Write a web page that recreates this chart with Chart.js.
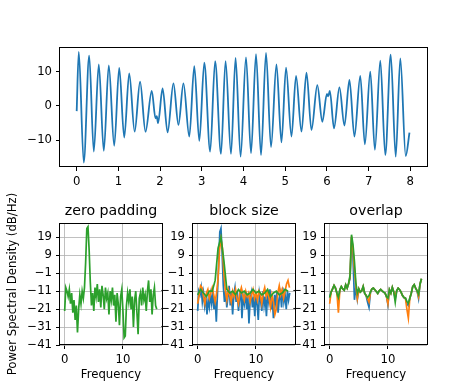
<!DOCTYPE html>
<html>
<head>
<meta charset="utf-8">
<script src="https://cdn.jsdelivr.net/npm/chart.js@4.4.0/dist/chart.umd.min.js"></script>
<style>
  body { margin: 0; background: #fff; width: 474px; height: 387px; overflow: hidden; position: relative; }
  canvas { position: absolute; }
</style>
</head>
<body>
<canvas id="signal" width="474" height="185" style="left:0px;top:0px"></canvas>
<canvas id="zeroPad" width="174" height="207" style="left:0px;top:180px"></canvas>
<canvas id="blockSize" width="174" height="207" style="left:133px;top:180px"></canvas>
<canvas id="overlap" width="174" height="207" style="left:265px;top:180px"></canvas>
<script>
// raw time series (peaks / troughs)
var sigTime = [0, 0.05, 0.17, 0.30, 0.41, 0.53, 0.65, 0.77, 0.90, 1.02, 1.14, 1.26, 1.39, 1.52, 1.65, 1.80, 1.89, 1.92, 1.95,
  2.06, 2.18, 2.32, 2.44, 2.56, 2.70, 2.82, 2.94, 3.06, 3.20, 3.32, 3.46, 3.57, 3.70, 3.81, 3.93, 4.06, 4.18, 4.30, 4.42,
  4.54, 4.66, 4.79, 4.91, 5.02, 5.15, 5.26, 5.39, 5.51, 5.63, 5.77, 5.89, 6.00, 6.03, 6.07, 6.17, 6.30, 6.42, 6.54, 6.66,
  6.80, 6.91, 7.04, 7.15, 7.28, 7.40, 7.53, 7.65, 7.76, 7.89, 7.98];
var sigValue = [-1.5, 15.8, -16.5, 14.7, -13.3, 12.1, -13.1, 11.8, -11.6, 11.1, -9.2, 9.5, -7.5, 7.1, -7.5, 4.4, -3.6, -3.0, -5.0,
  5.1, -7.7, 6.6, -5.5, 6.6, -8.9, 11.6, -10.2, 12.6, -13.3, 13.1, -14.0, 13.1, -14.0, 14.0, -14.8, 14.2, -13.8, 15.1, -14.3,
  15.5, -12.0, 12.1, -10.6, 11.2, -8.9, 8.8, -7.5, 9.7, -7.0, 6.1, -4.6, 3.5, 2.8, 4.4, -6.5, 5.4, -5.7, 7.6, -8.9,
  8.8, -11.2, 10.0, -12.8, 13.2, -14.3, 15.0, -14.8, 13.9, -14.6, -7.8];
var sigXTicks = [0, 1, 2, 3, 4, 5, 6, 7, 8];
var sigYTicks = [-10, 0, 10];

// PSD panels (dB/Hz), frequency bins every step Hz
var zpStep = 0.2;
var zpGreen = [-22, -9, -11, -14, -10, -18, -12, -23, -16, -27, -19, -34, -21, -13, -18, -11, -15, -9, 5, 24,
  25, 12, -6, -19, -12, -22, -9, -14, -7, -17, -10, -20, -8, -13, -21, -9, -15, -12, -24, -11,
  -16, -9, -19, -13, -28, -12, -18, -30, -14, -10, -22, -37, -36, -19, -12, -17, -10, -21, -14, -31,
  -16, -11, -23, -35, -15, -12, -19, -9, -16, -13, -22, -11, -5, -17, -10, -24, -13, -9, -19, -21];

var bsBlueStep = 0.2;
var bsBlue = [-22, -11, -13, -9, -17, -12, -19, -14, -24, -16, -20, -13, -18, -11, -21, -15, -28, -12, 4, 22,
  24, 10, -8, -17, -11, -20, -14, -8, -19, -12, -24, -13, -9, -17, -11, -22, -15, -10, -26, -14,
  -18, -11, -21, -13, -29, -16, -12, -20, -14, -25, -13, -18, -27, -12, -16, -22, -11, -19, -14, -25,
  -12, -17, -10, -21, -15, -26, -13, -18, -11, -23, -15, -12, -20, -9, -17, -13, -21, -11, -16, -12];
var bsOrangeStep = 0.25;
var bsOrange = [-18, -13, -8, -9, -14, -18, -12, -10, -15, -12, -9, -13, -17, -12, -4, 12, 18, 13, -1, -11,
  -16, -10, -13, -17, -11, -14, -10, -15, -18, -12, -9, -13, -16, -11, -14, -12, -17, -13, -10, -15,
  -12, -16, -11, -13, -18, -12, -9, -14, -11, -15, -20, -13, -17, -24, -21, -12, -8, -13, -10, -15,
  -11, -7, -5, -9];
var bsGreenStep = 0.5;
var bsGreen = [-13, -10, -12, -14, -11, -11, -5, 13, 19, 6, -10, -12, -11, -13, -10, -12,
  -11, -13, -12, -10, -12, -11, -13, -12, -10, -14, -12, -11, -13, -12, -10, -11];

var ovStep = 0.25;
var ovBlue = [-14.5, -11.5, -9.7, -7.8, -9.3, -12.1, -16, -10.2, -8.4, -9.7, -10.4, -7.4, -9.3, -6.7, -4, 19,
  8, -15.8, -9, -15.5, -9.7, -11.5, -10.8, -8.4, -12.1, -13.4, -17, -20, -11.5, -9.7, -9.3, -10.2,
  -11.2, -12.3, -10.8, -10, -10.8, -11.5, -12.1, -14, -18.5, -10.2, -12.1, -8.9, -11.5, -15, -10.8, -9.3,
  -10.2, -11.5, -13.4, -14.5, -14.9, -18, -19, -14.9, -12.1, -8.4, -7.4, -9.3, -10.8, -15, -7.1, -4.1];
var ovOrange = [-18, -11.5, -9.7, -7.8, -9.3, -12.1, -23, -10.2, -8.4, -9.7, -10.4, -7.4, -9.3, -6.7, -3, 19.5,
  12, 1, -8, -15, -9.7, -11.5, -10.8, -8.4, -12.1, -13.4, -15, -17, -11.5, -9.7, -9.3, -10.2,
  -11.2, -12.3, -10.8, -10, -10.8, -11.5, -12.1, -14, -18, -10.2, -12.1, -8.9, -11.5, -14, -10.8, -9.3,
  -10.2, -11.5, -13.4, -14.5, -14.9, -21, -26, -14.9, -12.1, -8.4, -7.4, -9.3, -10.8, -14, -7.1, -4.1];
var ovGreen = [-14.5, -11.5, -9.7, -7.8, -9.3, -12.1, -14.5, -10.2, -8.4, -9.7, -10.4, -7.4, -9.3, -6.7, -2, 20.5,
  15, 5.6, -6.5, -12.1, -9.7, -11.5, -10.8, -8.4, -12.1, -13.4, -14.5, -13.4, -11.5, -9.7, -9.3, -10.2,
  -11.2, -12.3, -10.8, -10, -10.8, -11.5, -12.1, -14, -14.9, -10.2, -12.1, -8.9, -11.5, -17.1, -10.8, -9.3,
  -10.2, -11.5, -13.4, -14.5, -14.9, -16.7, -17.7, -14.9, -12.1, -8.4, -7.4, -9.3, -10.8, -12.7, -7.1, -4.1];

var psdXTicks = [0, 10];
var psdYTicks = [-41, -31, -21, -11, -1, 9, 19];

var blue = '#1f77b4', orange = '#ff7f0e', green = '#2ca02c';

Chart.defaults.font.family = "'DejaVu Sans', sans-serif";
Chart.defaults.font.size = 11.7;
Chart.defaults.color = '#000';

function toPoints(values, step) {
  return values.map(function(v, i) { return {x: i * step, y: v}; });
}

function minusSign(v) {
  return String(v).replace('-', '\u2212');
}

function fixTicks(list) {
  return function(scale) {
    scale.ticks = list.map(function(v) { return {value: v}; });
  };
}

// matplotlib style box round the axes
var frame = {
  id: 'frame',
  afterDatasetsDraw: function(chart) {
    var a = chart.chartArea, ctx = chart.ctx;
    ctx.save();
    ctx.strokeStyle = '#000';
    ctx.lineWidth = 1;
    ctx.strokeRect(Math.round(a.left) - 0.5, Math.round(a.top) + 0.5,
      Math.round(a.right - a.left) + 1, Math.round(a.bottom - a.top) - 1);
    ctx.restore();
  }
};

function line(points, color, order) {
  return {
    data: points,
    borderColor: color,
    borderWidth: 1.7,
    pointRadius: 0,
    fill: false,
    order: order
  };
}

new Chart(document.getElementById('signal'), {
  type: 'line',
  data: {
    datasets: [Object.assign(line(sigTime.map(function(t, i) { return {x: t, y: sigValue[i]}; }), blue, 0),
      {cubicInterpolationMode: 'monotone', borderWidth: 1.8})]
  },
  plugins: [frame],
  options: {
    responsive: false,
    animation: false,
    events: [],
    layout: {padding: {left: 0, right: 47, top: 47, bottom: 0}},
    plugins: {legend: {display: false}, tooltip: {enabled: false}},
    scales: {
      x: {
        type: 'linear', min: -0.4, max: 8.4,
        afterBuildTicks: fixTicks(sigXTicks),
        afterFit: function(s) { s.height = 18; },
        grid: {drawOnChartArea: false, tickLength: 4, tickColor: '#000'},
        border: {display: false},
        ticks: {padding: 4, maxRotation: 0, autoSkip: false, callback: minusSign}
      },
      y: {
        type: 'linear', min: -17.8, max: 17.2,
        afterBuildTicks: fixTicks(sigYTicks),
        afterFit: function(s) { s.width = 60; },
        grid: {drawOnChartArea: false, tickLength: 4, tickColor: '#000'},
        border: {display: false},
        ticks: {padding: 4, autoSkip: false, callback: minusSign}
      }
    }
  }
});

function spectrum(id, title, datasets, yTitle) {
  new Chart(document.getElementById(id), {
    type: 'line',
    data: {datasets: datasets},
    plugins: [frame],
    options: {
      responsive: false,
      animation: false,
      events: [],
      layout: {padding: {left: 0, right: 12, top: 15, bottom: 0}},
      plugins: {
        legend: {display: false},
        tooltip: {enabled: false},
        title: {
          display: true, text: title, fullSize: false,
          font: {size: 14.2, weight: 'normal'}, color: '#000',
          padding: {top: 7.5, bottom: 3.5}
        }
      },
      scales: {
        x: {
          type: 'linear', min: -0.8, max: 16.7,
          afterBuildTicks: fixTicks(psdXTicks),
          afterFit: function(s) { s.height = 42; },
          grid: {color: '#b0b0b0', lineWidth: 0.8, tickLength: 4, tickColor: '#000', tickWidth: 1},
          border: {display: false},
          ticks: {padding: 4, maxRotation: 0, autoSkip: false, callback: minusSign},
          title: {display: true, text: 'Frequency', padding: {top: 0, bottom: 5.5}}
        },
        y: {
          type: 'linear', min: -41, max: 27,
          afterBuildTicks: fixTicks(psdYTicks),
          afterFit: function(s) { s.width = 60; },
          grid: {color: '#b0b0b0', lineWidth: 0.8, tickLength: 4, tickColor: '#000', tickWidth: 1},
          border: {display: false},
          ticks: {padding: 4, autoSkip: false, callback: minusSign},
          title: {display: !!yTitle, text: yTitle || '', padding: {top: 6, bottom: 0}}
        }
      }
    }
  });
}

spectrum('zeroPad', 'zero padding', [
  line(toPoints(zpGreen, zpStep), green, 0)
], 'Power Spectral Density (dB/Hz)');

spectrum('blockSize', 'block size', [
  line(toPoints(bsBlue, bsBlueStep), blue, 2),
  line(toPoints(bsOrange, bsOrangeStep), orange, 1),
  line(toPoints(bsGreen, bsGreenStep), green, 0)
]);

spectrum('overlap', 'overlap', [
  line(toPoints(ovBlue, ovStep), blue, 2),
  line(toPoints(ovOrange, ovStep), orange, 1),
  line(toPoints(ovGreen, ovStep), green, 0)
]);
</script>
</body>
</html>
